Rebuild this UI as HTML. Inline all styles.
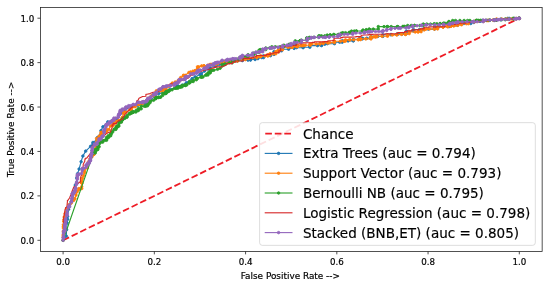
<!DOCTYPE html>
<html lang="en"><head><meta charset="utf-8"><title>ROC curves</title>
<style>html,body{margin:0;padding:0;background:#fff}body{width:550px;height:285px;overflow:hidden}svg{display:block}</style>
</head><body>
<svg width="550" height="285" viewBox="0 0 550 285" font-family='"DejaVu Sans", "Liberation Sans", sans-serif'>
<defs>
<marker id="m-blue" markerUnits="userSpaceOnUse" markerWidth="6" markerHeight="6" refX="3" refY="3" viewBox="0 0 6 6"><circle cx="3" cy="3" r="1.28" fill="#1f77b4" stroke="#1f77b4" stroke-width="0.8"/></marker>
<marker id="m-orange" markerUnits="userSpaceOnUse" markerWidth="6" markerHeight="6" refX="3" refY="3" viewBox="0 0 6 6"><circle cx="3" cy="3" r="1.28" fill="#ff7f0e" stroke="#ff7f0e" stroke-width="0.8"/></marker>
<marker id="m-green" markerUnits="userSpaceOnUse" markerWidth="6" markerHeight="6" refX="3" refY="3" viewBox="0 0 6 6"><circle cx="3" cy="3" r="1.28" fill="#2ca02c" stroke="#2ca02c" stroke-width="0.8"/></marker>
<marker id="m-red" markerUnits="userSpaceOnUse" markerWidth="6" markerHeight="6" refX="3" refY="3" viewBox="0 0 6 6"><circle cx="3" cy="3" r="1.28" fill="#d62728" stroke="#d62728" stroke-width="0.8"/></marker>
<marker id="m-purple" markerUnits="userSpaceOnUse" markerWidth="6" markerHeight="6" refX="3" refY="3" viewBox="0 0 6 6"><circle cx="3" cy="3" r="1.28" fill="#9467bd" stroke="#9467bd" stroke-width="0.8"/></marker>
<clipPath id="ax"><rect x="40.4" y="7.5" width="501.75" height="243.9"/></clipPath>
</defs>
<rect width="550" height="285" fill="#fff"/>
<g stroke="#222" stroke-width="0.8">
<line x1="63.10" y1="251.4" x2="63.10" y2="254.35"/>
<line x1="154.34" y1="251.4" x2="154.34" y2="254.35"/>
<line x1="245.58" y1="251.4" x2="245.58" y2="254.35"/>
<line x1="336.82" y1="251.4" x2="336.82" y2="254.35"/>
<line x1="428.06" y1="251.4" x2="428.06" y2="254.35"/>
<line x1="519.30" y1="251.4" x2="519.30" y2="254.35"/>
<line x1="37.45" y1="240.30" x2="40.4" y2="240.30"/>
<line x1="37.45" y1="195.88" x2="40.4" y2="195.88"/>
<line x1="37.45" y1="151.46" x2="40.4" y2="151.46"/>
<line x1="37.45" y1="107.04" x2="40.4" y2="107.04"/>
<line x1="37.45" y1="62.62" x2="40.4" y2="62.62"/>
<line x1="37.45" y1="18.20" x2="40.4" y2="18.20"/>
</g>
<g font-size="8.7" fill="#000" stroke="#000" stroke-width="0.18">
<text x="63.10" y="265.4" text-anchor="middle">0.0</text>
<text x="154.34" y="265.4" text-anchor="middle">0.2</text>
<text x="245.58" y="265.4" text-anchor="middle">0.4</text>
<text x="336.82" y="265.4" text-anchor="middle">0.6</text>
<text x="428.06" y="265.4" text-anchor="middle">0.8</text>
<text x="519.30" y="265.4" text-anchor="middle">1.0</text>
<text x="34.3" y="243.85" text-anchor="end">0.0</text>
<text x="34.3" y="199.43" text-anchor="end">0.2</text>
<text x="34.3" y="155.01" text-anchor="end">0.4</text>
<text x="34.3" y="110.59" text-anchor="end">0.6</text>
<text x="34.3" y="66.17" text-anchor="end">0.8</text>
<text x="34.3" y="21.75" text-anchor="end">1.0</text>
</g>
<text x="290.38" y="278.8" font-size="8.88" text-anchor="middle" fill="#000" stroke="#000" stroke-width="0.18">False Positive Rate --&gt;</text>
<text transform="translate(13.9 129.45) rotate(-90)" font-size="8.88" text-anchor="middle" fill="#000" stroke="#000" stroke-width="0.18">True Positive Rate --&gt;</text>
<g clip-path="url(#ax)" fill="none" stroke-linejoin="round">
<line x1="63.1" y1="240.3" x2="519.3" y2="18.2" stroke="#ee1c26" stroke-width="1.8" stroke-dasharray="6.65 2.875"/>
<polyline points="63.1,240.3 66.3,236.1 66.6,229.7 67.1,223.0 67.6,219.3 67.6,216.4 68.6,209.3 68.6,207.2 71.0,202.0 72.4,196.6 74.2,191.9 74.9,188.2 75.3,185.1 76.6,182.8 76.7,178.1 77.6,173.7 79.1,169.0 81.1,161.7 82.9,156.0 85.7,151.1 90.6,146.3 92.9,144.1 92.9,142.5 94.1,142.5 97.2,137.8 98.3,137.8 98.3,137.1 100.4,134.9 100.9,130.7 102.9,126.8 107.8,121.9 112.5,120.9 116.9,118.9 119.5,114.6 121.8,112.8 121.8,111.7 123.1,111.7 125.5,109.2 130.1,107.5 132.9,106.4 137.4,105.1 138.2,105.1 138.2,104.4 144.5,103.4 147.1,102.1 150.1,100.7 154.7,96.4 158.9,93.5 165.1,92.1 169.8,89.6 176.3,87.3 176.3,85.9 178.0,85.9 182.4,85.1 186.3,82.8 192.1,78.6 195.1,76.9 200.0,74.6 201.3,74.6 201.3,73.6 204.5,71.1 208.2,69.1 208.2,67.8 209.7,67.8 215.9,65.9 219.5,64.4 226.6,62.4 231.6,62.4 231.6,61.1 237.2,61.1 237.2,60.6 242.3,60.6 242.3,60.1 248.0,60.1 250.5,60.1 250.5,59.5 255.1,59.5 255.1,58.6 257.9,58.6 257.9,57.8 257.9,57.6 261.8,57.6 263.6,57.6 263.6,55.7 270.5,55.7 270.5,54.4 273.9,54.4 273.9,51.7 278.8,51.7 278.8,50.8 281.6,50.8 281.6,49.2 288.6,49.2 288.6,48.4 294.1,48.4 294.1,47.7 296.5,47.7 303.1,47.7 303.1,47.3 309.8,47.3 309.8,45.9 309.8,45.6 317.5,45.6 321.5,45.6 321.5,45.2 321.5,44.2 324.7,44.2 324.7,43.7 327.3,43.7 334.5,43.7 334.5,43.0 334.5,42.2 339.7,42.2 342.2,42.2 342.2,41.4 342.2,40.9 348.1,40.9 353.3,40.9 353.3,40.6 353.3,39.3 359.2,39.3 359.2,38.9 362.4,38.9 362.4,38.2 366.8,38.2 370.1,38.2 371.0,38.2 371.0,37.4 371.0,36.4 377.7,36.4 382.8,36.4 382.8,34.8 387.5,34.8 391.0,34.8 391.0,34.5 397.1,34.5 397.1,33.9 398.6,33.9 402.1,33.9 402.1,33.6 404.4,33.6 406.4,33.6 406.4,32.8 406.4,31.0 413.4,31.0 413.4,29.5 419.6,29.5 423.4,29.5 423.4,29.1 423.4,29.1 428.3,29.1 434.6,29.1 434.6,28.2 434.6,27.1 438.4,27.1 438.4,26.6 443.4,26.6 449.0,26.6 449.0,25.7 449.0,25.3 453.1,25.3 457.4,25.3 457.4,24.3 457.4,23.5 463.9,23.5 470.8,23.5 470.8,22.5 473.9,22.5 473.9,22.0 473.9,21.3 479.9,21.3 479.9,21.1 482.3,21.1 482.3,20.4 488.0,20.4 494.5,20.4 494.5,20.2 496.4,20.2 496.4,19.8 500.9,19.8 500.9,19.1 507.8,19.1 507.8,18.4 509.2,18.4 514.6,18.4 519.3,18.4 519.3,18.2" stroke="#1f77b4" stroke-width="1.12" marker-start="url(#m-blue)" marker-mid="url(#m-blue)" marker-end="url(#m-blue)"/>
<polyline points="63.1,240.3 63.1,237.1 63.1,235.1 63.4,232.0 63.4,231.0 63.4,228.0 63.4,226.6 63.4,224.8 63.8,221.4 64.0,221.4 64.0,219.5 64.2,219.5 64.2,217.1 65.0,213.8 66.3,209.9 66.9,209.9 66.9,207.9 69.0,204.8 71.1,203.2 73.6,200.4 73.6,198.7 74.9,198.7 76.0,195.1 77.2,191.7 78.8,189.6 78.8,188.6 80.6,188.6 81.7,188.6 81.7,186.7 81.7,183.0 81.8,183.0 81.8,181.2 82.4,178.5 83.5,175.6 84.5,172.6 84.5,171.0 85.8,168.0 87.3,168.0 87.3,166.6 88.6,161.8 89.9,158.9 92.1,156.6 93.5,154.4 94.0,154.4 94.0,152.7 94.6,152.7 94.6,151.0 95.9,147.4 95.9,144.2 96.6,141.5 96.6,138.6 99.1,136.2 101.0,134.0 101.0,132.4 101.7,132.4 103.6,132.4 103.6,132.0 105.2,132.0 105.2,131.3 106.6,131.3 106.6,130.0 106.6,129.5 108.9,129.5 110.4,126.0 112.5,126.0 112.5,124.6 113.7,124.6 113.7,122.8 115.6,122.8 115.6,121.2 118.7,120.4 122.2,117.4 123.6,113.5 123.6,112.1 124.2,112.1 125.8,112.1 129.7,109.7 131.3,109.7 131.3,108.9 133.9,106.7 135.3,106.7 138.9,104.4 138.9,103.7 140.1,103.7 142.1,103.7 142.1,103.6 142.1,102.2 143.6,102.2 146.5,100.6 148.6,98.2 151.5,95.8 153.4,95.8 153.4,94.4 156.4,91.9 156.4,90.8 158.5,90.8 160.9,90.8 160.9,90.4 163.0,90.4 163.0,89.5 164.5,89.5 165.8,89.5 165.8,88.8 169.3,86.4 171.7,84.5 172.3,84.5 172.3,83.1 175.2,82.0 178.3,80.4 180.7,78.5 180.7,77.6 183.5,75.7 183.5,75.3 185.2,75.3 188.9,72.5 190.4,72.5 190.4,72.1 192.9,71.2 195.0,71.2 195.0,70.6 197.5,68.5 197.5,66.9 198.7,66.9 201.7,65.9 204.0,65.9 204.0,65.8 208.1,65.2 210.2,65.2 210.2,64.4 211.8,64.4 214.7,64.4 215.8,64.4 215.8,63.5 217.9,63.5 217.9,63.3 221.7,62.8 224.3,61.4 227.1,61.4 228.3,61.4 228.3,61.1 230.8,61.1 235.0,61.1 237.5,61.1 237.5,59.6 241.2,59.6 245.3,59.6 245.3,58.5 248.5,58.5 248.5,58.0 248.5,57.7 252.8,57.7 256.9,57.7 256.9,56.6 259.5,56.6 260.8,56.6 260.8,55.9 265.1,55.9 267.8,55.9 267.8,55.8 267.8,54.9 269.9,54.9 269.9,53.8 273.2,53.8 275.8,53.8 275.8,52.6 275.8,51.8 276.5,51.8 278.4,51.8 278.4,50.5 278.4,49.7 279.9,49.7 282.5,49.7 282.5,48.9 282.5,47.3 288.1,47.3 288.5,47.3 291.4,47.3 292.6,47.2 292.6,46.6 296.6,46.6 297.7,46.6 297.7,45.7 300.9,45.7 302.9,45.7 302.9,45.4 302.9,45.3 305.2,45.3 310.0,45.3 310.0,44.0 311.6,44.0 316.2,44.0 320.0,44.0 320.0,43.4 323.2,43.4 323.2,42.9 327.9,42.9 327.9,42.6 329.6,42.6 334.4,42.6 334.4,41.5 334.4,41.2 340.5,41.2 344.1,41.1 344.1,41.1 345.5,41.1 345.5,39.9 349.7,39.9 349.7,39.7 353.7,39.7 358.3,39.7 358.3,39.6 360.6,39.6 360.6,38.9 365.8,38.9 371.0,38.9 371.0,37.3 371.0,36.9 373.8,36.9 375.5,36.9 375.5,36.7 376.8,36.7 376.8,36.2 382.0,36.2 387.5,36.2 387.5,35.5 387.5,35.0 392.5,35.0 396.8,35.0 396.8,34.4 401.5,34.4 405.5,34.4 405.5,34.3 405.5,33.6 409.2,33.6 409.2,32.0 415.2,32.0 418.1,32.0 418.1,31.7 421.1,31.7 421.1,29.8 424.3,29.8 424.3,29.6 424.3,29.0 426.4,29.0 429.5,29.0 434.4,29.0 434.4,28.9 437.6,28.9 437.6,27.1 443.1,27.1 443.1,27.0 443.1,26.8 447.7,26.8 447.7,26.3 450.7,26.3 450.7,26.0 451.1,26.0 453.8,26.0 453.8,25.4 453.8,25.2 455.4,25.2 457.8,25.2 457.8,24.8 461.5,24.8 461.5,24.0 461.5,23.7 466.4,23.7 468.4,23.7 468.4,22.0 474.3,22.0 474.3,21.3 478.1,21.3 483.6,21.3 483.6,20.6 487.0,20.6 488.2,20.6 488.2,20.3 493.5,20.3 493.5,19.8 495.1,19.8 496.5,19.8 496.5,19.6 496.5,19.0 501.6,19.0 505.9,19.0 508.0,19.0 511.1,19.0 516.1,19.0 516.1,18.4 519.3,18.4 519.3,18.2" stroke="#ff7f0e" stroke-width="1.12" marker-start="url(#m-orange)" marker-mid="url(#m-orange)" marker-end="url(#m-orange)"/>
<polyline points="63.1,240.3 93.4,153.0 95.2,153.0 95.2,151.5 95.3,151.5 95.3,150.8 95.3,149.6 95.8,149.6 97.1,149.6 97.1,149.5 97.8,149.5 97.8,147.1 98.9,147.1 98.9,146.2 99.6,143.5 99.6,142.1 100.4,142.1 100.8,142.1 102.7,142.1 102.7,140.8 102.7,140.3 104.8,140.3 106.5,140.3 106.5,139.3 106.5,137.5 107.5,137.5 108.3,137.5 108.3,137.3 108.3,135.7 110.2,135.7 110.7,135.7 110.7,134.5 110.7,133.5 111.4,133.5 111.4,131.8 112.8,131.8 113.9,129.4 115.8,129.4 115.8,128.7 115.8,127.6 116.9,127.6 116.9,126.6 116.9,126.2 117.1,126.2 118.2,126.2 118.2,126.0 118.9,126.0 118.9,123.8 118.9,122.2 119.6,122.2 121.3,122.2 121.3,120.6 121.8,120.6 121.8,119.8 122.5,119.8 122.5,119.2 123.1,119.2 123.1,118.3 124.9,118.3 124.9,117.2 127.0,117.2 127.0,116.2 127.0,115.7 129.0,113.9 130.0,113.9 130.0,113.2 131.5,113.2 131.5,112.2 132.5,112.2 133.3,112.2 133.3,112.1 133.3,111.8 135.7,111.8 136.0,111.8 136.0,110.5 137.9,110.5 138.3,110.5 138.3,109.0 138.3,108.8 140.0,108.8 141.2,108.8 141.3,106.2 144.3,106.2 145.7,106.2 145.7,105.8 147.5,105.8 147.5,104.4 148.3,104.4 148.3,103.6 148.3,102.6 150.1,102.6 150.1,100.6 150.9,100.6 153.5,100.3 155.6,98.8 155.6,98.3 156.1,98.3 156.1,97.4 158.2,97.4 158.5,97.4 158.5,97.2 160.4,97.2 160.4,97.1 162.6,95.5 162.6,93.6 164.4,93.6 165.6,93.6 165.6,93.2 166.2,93.2 166.2,92.3 166.2,91.4 168.0,91.4 168.5,91.4 168.5,90.6 169.6,90.6 172.1,89.8 174.6,88.2 175.5,88.2 176.2,88.2 177.8,88.2 177.8,87.1 178.9,87.1 180.3,87.1 180.3,86.8 181.4,86.8 182.0,86.8 182.0,85.5 183.3,85.5 185.3,85.5 185.3,85.3 185.3,84.9 186.8,84.9 189.0,82.9 189.6,82.9 189.6,82.2 189.6,81.5 191.8,81.5 193.2,81.5 193.2,80.2 196.3,79.8 196.3,78.4 197.5,78.4 200.9,77.1 201.8,77.1 201.8,76.9 203.0,76.9 205.9,75.0 206.1,75.0 207.9,75.0 207.9,73.2 208.5,73.2 208.5,72.9 210.2,72.9 210.2,71.2 210.9,71.2 210.9,70.2 212.3,70.2 213.8,70.2 217.5,69.3 220.1,68.3 222.3,65.9 222.3,64.5 224.1,64.5 224.7,64.5 224.7,64.4 225.2,64.4 229.1,62.8 232.2,62.8 232.2,61.0 232.6,61.0 232.6,60.6 234.6,60.6 234.6,59.6 238.9,59.6 238.9,58.3 243.1,58.3 243.1,56.4 246.5,56.4 248.1,56.4 248.1,54.7 253.8,54.7 253.8,53.5 253.8,53.2 255.9,53.2 255.9,52.5 259.0,52.5 259.0,50.3 260.2,50.3 260.2,49.6 262.0,49.6 265.8,49.6 265.8,48.5 265.8,48.0 269.6,48.0 271.8,48.0 271.8,46.8 275.4,46.8 280.1,46.8 283.9,46.8 283.9,46.3 283.9,45.2 289.1,45.2 289.1,44.3 290.2,44.3 293.7,44.3 295.3,44.3 295.3,43.2 295.3,40.9 299.9,40.9 299.9,40.9 301.0,40.9 301.0,40.3 301.5,40.3 306.7,40.3 306.7,38.1 306.7,38.1 309.4,38.1 309.4,37.4 313.7,37.4 318.8,37.4 318.8,35.9 319.6,35.9 321.5,35.9 324.8,35.9 327.2,35.9 327.2,35.1 330.2,35.1 330.2,34.9 333.8,34.9 333.8,34.4 338.4,34.4 341.1,34.4 341.1,33.3 342.7,33.3 342.7,32.7 345.5,32.7 349.3,32.7 349.3,32.3 351.5,32.3 351.5,31.1 354.3,31.1 356.4,31.1 356.4,31.0 362.3,31.0 363.0,31.0 363.0,30.0 366.3,30.0 366.3,29.7 369.2,29.7 369.2,29.4 369.2,29.1 373.3,29.1 378.3,29.1 378.3,26.6 384.0,26.6 387.1,26.6 387.6,26.6 391.2,26.6 397.2,26.6 397.9,26.6 403.0,26.6 403.0,26.4 404.6,26.4 407.7,26.4 407.7,25.5 411.2,25.5 414.4,25.5 414.4,25.5 419.9,25.5 423.3,25.5 423.3,24.7 423.3,24.1 426.8,24.1 430.5,24.1 434.3,24.1 434.3,23.8 436.8,23.8 440.1,23.8 440.1,23.5 443.5,23.5 443.5,23.2 444.8,23.2 447.3,23.2 448.9,23.2 448.9,22.0 448.9,21.5 452.7,21.5 452.7,20.5 455.5,20.5 459.9,20.5 464.1,20.5 467.6,20.5 469.9,20.5 476.4,20.5 476.4,20.3 478.1,20.3 480.5,20.3 486.3,20.3 489.7,20.3 489.7,20.1 493.6,20.1 496.0,20.1 496.0,19.7 501.1,19.7 505.2,19.7 505.2,19.1 509.0,19.1 509.0,19.0 513.3,19.0 513.3,18.2 518.7,18.2 519.3,18.2" stroke="#2ca02c" stroke-width="1.12" marker-start="url(#m-green)" marker-mid="url(#m-green)" marker-end="url(#m-green)"/>
<polyline points="63.1,240.3 63.1,236.6 63.7,232.6 63.7,230.5 63.7,227.7 63.7,224.7 63.7,223.0 63.7,220.8 63.7,217.1 64.5,213.6 64.5,212.1 64.6,212.1 65.6,207.5 67.0,207.5 67.0,205.6 67.4,201.9 67.4,200.3 68.1,200.3 69.6,197.8 71.1,194.3 72.1,191.3 73.9,186.7 75.8,186.7 75.8,185.4 79.8,182.0 80.4,182.0 80.4,180.3 80.4,177.5 80.9,177.5 80.9,175.8 81.4,175.8 81.4,174.5 81.7,174.5 81.7,172.4 82.8,169.3 83.2,165.7 83.2,164.3 84.8,161.2 84.8,159.5 85.2,159.5 85.2,158.2 86.7,158.2 88.5,155.8 91.6,152.0 91.8,148.5 91.8,146.4 92.1,146.4 94.5,144.7 97.4,142.0 98.4,142.0 98.4,141.4 101.1,138.3 103.8,136.1 105.8,134.0 108.9,132.2 110.5,132.2 110.5,131.7 112.1,127.5 112.1,125.1 113.1,125.1 113.1,123.6 114.7,123.6 116.4,123.6 116.4,122.6 119.3,120.5 122.3,119.2 122.5,119.2 122.5,118.5 124.9,114.6 127.3,111.8 127.5,111.8 131.1,108.0 131.1,107.2 132.7,107.2 132.7,105.8 134.5,105.8 136.7,102.4 136.7,100.8 137.8,100.8 139.0,98.2 142.6,96.5 145.9,96.3 145.9,94.3 147.1,94.3 149.9,93.6 153.2,92.2 156.4,91.7 158.3,91.6 161.0,89.6 164.1,86.7 165.0,86.7 165.0,85.7 168.3,85.3 170.4,83.8 170.4,83.8 171.9,83.8 174.6,83.8 175.4,83.8 175.4,83.6 177.9,81.2 181.3,80.8 183.6,79.4 183.6,78.6 185.1,78.6 188.0,78.3 190.3,76.0 190.3,75.3 192.3,75.3 195.3,73.3 195.3,73.0 197.0,73.0 199.7,71.9 204.0,70.3 205.5,70.3 205.5,69.8 208.2,69.8 212.3,68.1 213.2,68.1 213.2,67.9 217.3,66.9 219.9,66.9 221.6,66.9 225.5,65.3 228.6,63.6 232.4,63.6 232.4,62.7 232.4,62.1 235.4,62.1 235.4,61.0 236.9,61.0 239.3,61.0 243.2,61.0 243.2,60.1 243.2,58.4 247.7,58.4 251.3,58.4 251.3,57.7 253.6,57.7 253.6,56.8 256.2,56.8 256.2,55.5 259.2,55.5 262.1,55.5 266.2,55.5 266.2,54.4 270.7,54.4 270.7,53.3 273.6,53.3 273.6,52.7 278.8,52.7 278.8,51.5 278.8,50.9 280.0,50.9 280.7,50.9 280.7,47.5 280.7,46.3 282.3,46.3 286.0,46.3 289.4,46.3 290.9,46.3 290.9,45.4 296.2,45.4 296.2,44.9 296.2,44.0 297.0,44.0 298.8,44.0 298.8,43.9 301.4,43.9 301.4,43.8 301.4,42.9 306.6,42.9 306.6,42.7 309.0,42.7 312.2,42.7 312.2,42.4 314.4,42.4 314.4,41.9 317.2,41.9 320.1,41.9 324.3,41.9 324.3,41.6 327.8,41.6 327.8,40.7 332.7,40.7 332.7,40.4 334.0,40.4 334.0,38.2 338.4,38.2 340.7,38.2 340.7,37.6 342.7,37.6 342.7,37.2 342.7,37.1 347.6,37.1 352.1,37.1 352.1,37.0 355.8,37.0 355.8,36.6 359.5,36.6 361.2,36.6 361.2,35.2 363.1,35.2 363.1,35.0 367.5,35.0 367.5,34.9 369.0,34.9 369.0,34.4 372.8,34.4 372.8,34.3 375.6,34.3 376.9,34.3 381.0,34.3 384.9,34.3 384.9,33.7 386.2,33.7 389.1,33.7 392.2,33.7 397.8,33.7 397.8,32.5 402.1,32.5 404.6,32.5 404.6,31.6 406.8,31.6 406.8,30.9 409.7,30.9 411.7,30.9 411.7,30.7 411.7,29.9 414.8,29.9 416.5,29.9 418.4,29.9 418.4,29.7 418.4,29.3 420.3,29.3 420.3,28.9 421.9,28.9 424.1,28.9 424.1,27.2 428.7,27.2 428.7,26.9 432.0,26.9 436.6,26.9 436.6,26.7 441.7,26.7 445.0,26.7 445.0,25.8 445.0,24.8 448.1,24.8 452.0,24.8 452.0,24.4 455.5,24.4 455.5,23.9 458.6,23.9 458.6,23.5 458.6,23.1 462.3,23.1 465.9,23.1 465.9,22.4 469.5,22.4 469.5,22.0 472.4,22.0 476.7,22.0 476.7,21.9 476.7,21.2 479.1,21.2 483.6,21.2 483.6,20.9 483.6,20.6 483.8,20.6 486.8,20.6 487.6,20.6 487.6,20.3 490.1,20.3 490.1,19.6 495.2,19.6 496.1,19.6 496.1,19.5 497.7,19.5 501.1,19.5 501.1,19.4 501.1,19.1 504.9,19.1 509.2,19.1 512.2,19.1 512.2,18.8 513.1,18.8 513.1,18.2 518.2,18.2 519.3,18.2" stroke="#d62728" stroke-width="1.12"/>
<polyline points="63.1,240.3 63.1,237.9 63.6,237.9 63.6,236.1 63.6,233.5 63.6,233.0 63.6,231.1 64.8,231.1 64.8,230.5 64.8,229.6 64.8,228.1 64.8,227.6 64.8,226.3 64.8,225.0 64.8,223.8 65.6,223.8 65.6,221.9 65.6,220.4 65.7,220.4 65.7,220.4 65.7,218.7 66.8,215.8 66.8,215.2 67.0,215.2 67.0,214.0 67.0,212.9 67.0,210.5 68.4,207.5 68.4,206.7 69.7,206.7 69.7,204.8 71.6,201.9 71.6,201.2 71.6,198.8 72.1,198.8 72.1,196.5 72.3,196.5 72.3,194.0 72.3,193.4 73.4,193.4 73.4,193.1 74.1,193.1 74.1,191.2 75.2,191.2 75.2,190.2 75.2,188.6 75.6,188.6 75.6,187.8 76.4,184.6 76.4,183.5 76.7,183.5 76.7,181.9 77.3,179.2 77.3,177.8 77.3,176.3 77.3,175.8 77.3,174.7 78.8,174.7 78.8,173.9 81.5,173.5 82.2,170.7 82.2,168.4 83.1,168.4 83.8,168.4 86.0,167.2 86.0,165.2 86.3,165.2 87.4,165.2 87.4,163.2 89.3,163.2 89.3,161.1 90.3,161.1 90.3,160.1 90.6,160.1 90.6,158.6 90.6,157.0 90.9,157.0 90.9,155.8 91.3,155.8 91.3,154.7 91.5,154.7 91.5,153.9 91.5,153.5 91.8,153.5 91.9,153.5 91.9,150.9 91.9,150.4 92.2,150.4 92.2,148.7 92.2,147.8 92.5,147.8 94.4,145.4 94.4,144.1 95.6,144.1 97.1,144.1 97.1,142.5 98.9,140.6 98.9,139.0 100.0,139.0 101.0,139.0 101.0,138.9 102.0,136.3 103.0,136.3 103.0,135.8 103.0,135.6 104.1,132.8 104.1,131.8 104.1,131.8 104.1,130.1 104.1,129.8 104.8,129.8 105.9,126.9 105.9,126.7 105.9,124.6 106.8,124.6 107.8,124.6 107.8,123.5 109.4,123.5 109.4,122.4 109.4,122.1 111.4,122.1 111.4,121.1 112.3,121.1 112.3,120.3 113.9,120.3 113.9,119.0 113.9,118.1 115.7,118.1 118.1,117.1 118.4,117.1 118.4,115.5 118.6,115.5 118.6,114.2 119.9,114.2 119.9,114.0 119.9,112.1 120.1,112.1 120.1,110.4 122.2,110.4 122.2,109.1 123.5,109.1 125.7,109.1 125.7,108.5 125.7,107.1 126.4,107.1 128.6,107.1 128.6,106.5 128.6,105.7 130.2,105.7 133.0,104.7 133.0,104.5 133.4,104.5 135.7,104.5 137.7,102.4 138.5,102.4 139.6,102.4 141.6,102.4 142.6,102.4 142.6,101.9 143.7,101.9 143.7,101.6 145.7,101.6 146.6,101.6 146.6,100.5 147.3,100.5 147.3,99.8 147.3,99.5 147.7,99.5 147.7,98.3 149.5,98.3 149.6,98.3 149.6,97.9 150.7,97.9 150.7,96.7 153.4,95.2 153.4,94.2 155.2,94.2 155.2,93.6 155.6,93.6 156.5,93.6 156.5,92.1 158.8,89.6 159.4,89.6 159.4,89.2 160.7,89.2 160.7,88.8 162.9,86.9 162.9,86.8 163.9,86.8 166.0,86.8 166.0,86.0 167.2,86.0 167.3,86.0 170.0,86.0 170.0,85.5 171.0,85.5 174.1,85.5 174.1,84.0 175.3,84.0 175.3,84.0 175.3,83.1 177.4,83.1 177.4,82.2 178.8,82.2 178.8,81.1 179.1,81.1 179.1,79.5 180.4,79.5 181.7,79.5 183.8,79.5 185.1,79.5 185.1,79.1 185.1,77.1 185.5,77.1 185.8,77.1 186.6,77.1 186.6,76.9 186.6,76.4 188.7,76.4 190.7,73.9 192.8,73.9 193.7,73.9 193.7,73.6 196.4,73.2 196.4,72.6 196.5,72.6 197.4,72.6 197.4,71.3 197.4,70.9 198.9,70.9 198.9,70.1 200.4,70.1 204.0,68.7 204.0,68.1 206.0,68.1 206.0,67.6 206.5,67.6 207.4,67.6 207.4,66.8 207.4,65.6 207.9,65.6 209.3,65.6 209.3,65.1 210.8,65.1 213.3,65.1 213.3,64.8 213.3,63.8 215.0,63.8 215.0,62.8 216.5,62.8 216.5,62.8 217.2,62.8 217.2,62.2 219.0,62.2 222.0,60.8 222.0,60.4 222.2,60.4 226.2,60.4 226.2,60.2 227.6,60.2 227.6,59.3 230.2,59.3 232.7,59.3 232.7,58.7 232.7,58.7 234.4,58.7 236.1,58.7 239.9,58.7 239.9,58.0 239.9,57.0 240.9,57.0 240.9,56.9 242.2,56.9 242.2,56.5 242.3,56.5 242.3,55.3 247.6,55.3 247.9,55.3 250.5,55.3 252.6,55.3 252.6,53.0 256.0,53.0 256.0,52.0 259.0,52.0 259.0,51.8 260.6,51.8 262.8,51.8 262.8,50.1 262.8,49.0 265.2,49.0 265.5,49.0 265.5,48.4 270.1,48.4 270.1,47.9 272.0,47.9 274.1,47.9 274.1,47.3 278.1,47.3 278.1,47.2 282.6,47.2 282.6,46.5 282.6,45.6 287.1,45.6 287.1,45.1 289.2,45.1 291.1,45.1 291.1,44.4 291.1,43.5 294.2,43.5 294.2,42.3 297.0,42.3 301.5,42.3 301.5,40.4 307.3,40.4 307.3,39.0 307.3,38.2 311.1,38.2 311.1,37.4 314.3,37.4 314.3,37.3 319.0,37.3 319.0,37.3 322.9,37.3 325.1,37.3 325.5,37.3 325.5,37.1 329.3,37.1 329.3,37.1 329.3,36.7 333.6,36.7 337.8,36.7 337.8,35.4 339.0,35.4 340.0,35.4 340.0,34.3 344.3,34.3 347.6,34.3 352.7,34.3 352.7,33.0 355.9,33.0 360.3,33.0 364.4,33.0 364.4,32.2 364.4,32.0 367.7,32.0 367.7,31.9 369.6,31.9 369.6,31.5 371.9,31.5 375.5,31.5 378.7,31.5 381.7,31.5 383.0,31.5 383.0,31.0 383.0,30.5 386.7,30.5 386.7,29.4 391.0,29.4 391.0,28.3 395.0,28.3 398.4,28.3 400.4,28.3 400.4,27.8 405.8,27.8 408.8,27.8 408.8,26.9 412.7,26.9 412.7,25.7 417.0,25.7 421.5,25.7 421.5,25.0 426.1,25.0 426.1,24.7 430.1,24.7 434.8,24.7 439.2,24.7 443.6,24.7 443.6,24.2 448.9,24.2 450.0,24.2 450.0,23.4 452.7,23.4 452.7,22.8 456.2,22.8 456.2,22.4 457.9,22.4 457.9,21.7 462.2,21.7 467.1,21.7 472.0,21.7 473.9,21.7 473.9,21.7 477.1,21.7 483.2,21.7 483.2,20.1 485.6,20.1 490.0,20.1 493.7,20.1 493.7,20.0 495.5,20.0 495.5,19.9 497.9,19.9 497.9,19.5 499.9,19.5 502.1,19.5 505.4,19.5 509.0,19.5 509.0,19.0 514.7,19.0 516.2,19.0 516.2,18.8 516.2,18.5 518.3,18.5 519.3,18.5 519.3,18.2" stroke="#9467bd" stroke-width="1.12" marker-start="url(#m-purple)" marker-mid="url(#m-purple)" marker-end="url(#m-purple)"/>
</g>
<rect x="40.4" y="7.5" width="501.75" height="243.9" fill="none" stroke="#222" stroke-width="0.78"/>
<rect x="259.6" y="122.65" width="275.7" height="122.7" rx="2.7" fill="#fff" fill-opacity="0.86" stroke="#ccc" stroke-opacity="0.8" stroke-width="0.85"/>
<line x1="265.25" y1="133.60" x2="292.5" y2="133.60" stroke="#ee1c26" stroke-width="1.8" stroke-dasharray="6.65 2.875"/>
<line x1="264.7" y1="153.40" x2="292.5" y2="153.40" stroke="#1f77b4" stroke-width="1.12"/>
<circle cx="278.60" cy="153.40" r="1.28" fill="#1f77b4" stroke="#1f77b4" stroke-width="0.8"/>
<line x1="264.7" y1="173.20" x2="292.5" y2="173.20" stroke="#ff7f0e" stroke-width="1.12"/>
<circle cx="278.60" cy="173.20" r="1.28" fill="#ff7f0e" stroke="#ff7f0e" stroke-width="0.8"/>
<line x1="264.7" y1="193.00" x2="292.5" y2="193.00" stroke="#2ca02c" stroke-width="1.12"/>
<circle cx="278.60" cy="193.00" r="1.28" fill="#2ca02c" stroke="#2ca02c" stroke-width="0.8"/>
<line x1="264.7" y1="212.80" x2="292.5" y2="212.80" stroke="#d62728" stroke-width="1.12"/>
<line x1="264.7" y1="232.60" x2="292.5" y2="232.60" stroke="#9467bd" stroke-width="1.12"/>
<circle cx="278.60" cy="232.60" r="1.28" fill="#9467bd" stroke="#9467bd" stroke-width="0.8"/>
<g font-size="13.53" fill="#000" stroke="#000" stroke-width="0.15">
<text x="302.9" y="138.60">Chance</text>
<text x="302.9" y="158.40">Extra Trees (auc = 0.794)</text>
<text x="302.9" y="178.20">Support Vector (auc = 0.793)</text>
<text x="302.9" y="198.00">Bernoulli NB (auc = 0.795)</text>
<text x="302.9" y="217.80">Logistic Regression (auc = 0.798)</text>
<text x="302.9" y="237.60">Stacked (BNB,ET) (auc = 0.805)</text>
</g>
</svg>
</body></html>
